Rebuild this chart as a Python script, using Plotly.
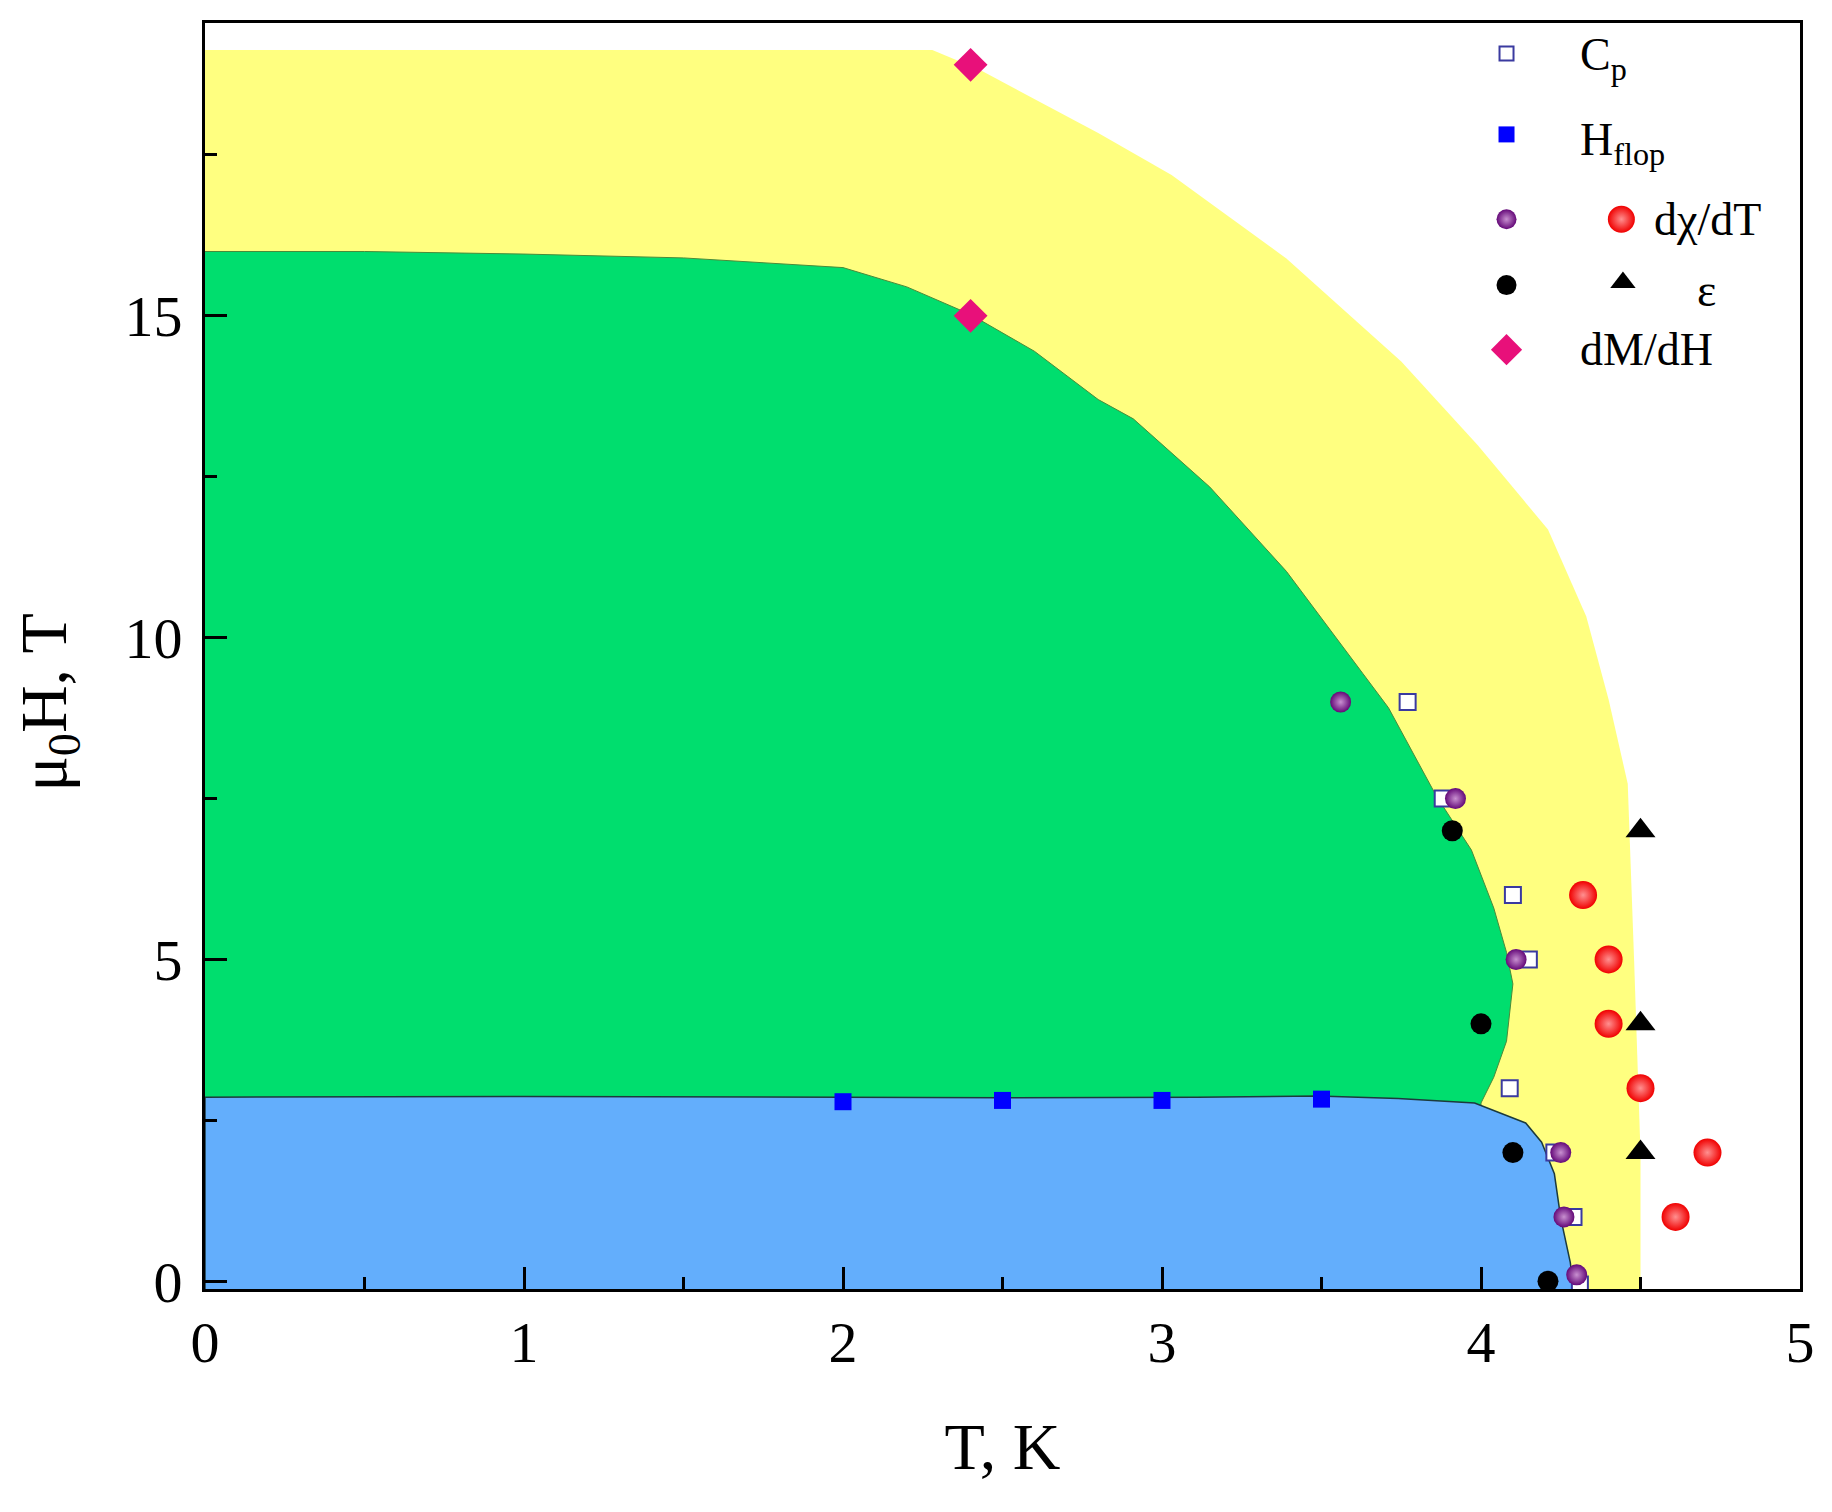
import plotly.graph_objects as go

# phase boundaries (T in K, mu0H in T)
yellow_T = [0, 2.28, 2.43, 2.80, 3.03, 3.39, 3.75, 3.99, 4.21, 4.33, 4.40, 4.46, 4.48, 4.50, 4.50, 0]
yellow_H = [19.13, 19.13, 18.82, 17.84, 17.19, 15.89, 14.29, 12.99, 11.68, 10.33, 9.04, 7.73, 4.98,
            2.0, -0.13, -0.13]

green_T = [0, 0.5, 1.0, 1.5, 2.0, 2.2, 2.4, 2.6, 2.8, 2.91, 3.15, 3.39, 3.63, 3.71, 3.86, 3.97,
           4.04, 4.08, 4.10, 4.08, 4.04, 4.00, 4.00, 0]
green_H = [16.0, 16.0, 15.96, 15.9, 15.75, 15.45, 15.02, 14.45, 13.7, 13.4, 12.34, 11.03, 9.44, 8.91,
           7.54, 6.7, 5.8, 5.11, 4.62, 3.73, 3.17, 2.77, -0.13, -0.13]

blue_T = [0, 1.0, 2.0, 2.5, 3.11, 3.49, 3.74, 3.98, 4.14, 4.19, 4.23, 4.25, 4.28, 4.29, 0, 0]
blue_H = [2.86, 2.87, 2.86, 2.85, 2.86, 2.88, 2.84, 2.77, 2.46, 2.16, 1.67, 0.98, 0.29, -0.13, -0.13, 2.86]

# measured points
cp_T = [3.77, 3.88, 4.10, 4.15, 4.09, 4.23, 4.29, 4.31]
cp_H = [9.0, 7.5, 6.0, 5.0, 3.0, 2.0, 1.0, -0.05]

flop_T = [2.0, 2.5, 3.0, 3.5]
flop_H = [2.79, 2.81, 2.81, 2.83]

chi_low_T = [3.56, 3.92, 4.11, 4.25, 4.26, 4.30]
chi_low_H = [9.0, 7.5, 5.0, 2.0, 1.0, 0.1]

chi_high_T = [4.32, 4.40, 4.40, 4.50, 4.71, 4.61]
chi_high_H = [6.0, 5.0, 4.0, 3.0, 2.0, 1.0]

eps_low_T = [3.91, 4.00, 4.10, 4.21]
eps_low_H = [7.0, 4.0, 2.0, 0.0]

eps_high_T = [4.50, 4.50, 4.50]
eps_high_H = [7.0, 4.0, 2.0]

dmdh_T = [2.40, 2.40]
dmdh_H = [18.9, 15.0]

FONT = "Liberation Serif"

fig = go.Figure()

fig.add_trace(go.Scatter(x=yellow_T, y=yellow_H, fill="toself", fillcolor="#FFFF80",
                         mode="lines", line=dict(width=0), hoverinfo="skip"))
fig.add_trace(go.Scatter(x=green_T, y=green_H, fill="toself", fillcolor="#00DE6E",
                         mode="lines", line=dict(width=1, color="#4a8a3a"), hoverinfo="skip"))
fig.add_trace(go.Scatter(x=blue_T, y=blue_H, fill="toself", fillcolor="#63AEFC",
                         mode="lines", line=dict(width=1.5, color="#1c3a3c"), hoverinfo="skip"))

fig.add_trace(go.Scatter(x=cp_T, y=cp_H, mode="markers",
                         marker=dict(symbol="square", size=16, color="white",
                                     line=dict(color="#3a3aa0", width=2))))
fig.add_trace(go.Scatter(x=flop_T, y=flop_H, mode="markers",
                         marker=dict(symbol="square", size=17, color="#0000FF", line=dict(width=0))))
fig.add_trace(go.Scatter(x=chi_low_T, y=chi_low_H, mode="markers",
                         marker=dict(symbol="circle", size=21, color="#640878",
                                     gradient=dict(type="radial", color="#c890d0"), line=dict(width=0))))
fig.add_trace(go.Scatter(x=chi_high_T, y=chi_high_H, mode="markers",
                         marker=dict(symbol="circle", size=28, color="#F00000",
                                     gradient=dict(type="radial", color="#ff9090"), line=dict(width=0))))
fig.add_trace(go.Scatter(x=eps_low_T, y=eps_low_H, mode="markers",
                         marker=dict(symbol="circle", size=21, color="black", line=dict(width=0))))
fig.add_trace(go.Scatter(x=eps_high_T, y=eps_high_H, mode="markers",
                         marker=dict(symbol="triangle-up", size=26, color="black", line=dict(width=0))))
fig.add_trace(go.Scatter(x=dmdh_T, y=dmdh_H, mode="markers",
                         marker=dict(symbol="diamond", size=26, color="#E8107A", line=dict(width=0))))

# hand-made legend on an overlay axis (0..1 space over the plot area)
legend_rows = [
    dict(sym="square", size=14, color="white", line="#3a3aa0", x=0.816, y=0.976),
    dict(sym="square", size=16, color="#0000FF", line=None, x=0.816, y=0.912),
    dict(sym="circle", size=20, color="#640878", grad="#c890d0", line=None, x=0.816, y=0.845),
    dict(sym="circle", size=27, color="#F00000", grad="#ff9090", line=None, x=0.888, y=0.845),
    dict(sym="circle", size=20, color="black", line=None, x=0.816, y=0.793),
    dict(sym="triangle-up", size=22, color="black", line=None, x=0.889, y=0.795),
    dict(sym="diamond", size=24, color="#E8107A", line=None, x=0.816, y=0.742),
]
for r in legend_rows:
    m = dict(symbol=r["sym"], size=r["size"], color=r["color"],
             line=dict(color=r["line"] or r["color"], width=2 if r["line"] else 0))
    if r.get("grad"):
        m["gradient"] = dict(type="radial", color=r["grad"])
    fig.add_trace(go.Scatter(x=[r["x"]], y=[r["y"]], mode="markers", marker=m,
                             xaxis="x2", yaxis="y2", hoverinfo="skip"))

legend_text = [
    ("C<sub>p</sub>", 0.861, 0.972),
    ("H<sub>flop</sub>", 0.861, 0.905),
    ("dχ/dT", 0.907, 0.845),
    ("ε", 0.934, 0.789),
    ("dM/dH", 0.861, 0.742),
]
for txt, x, y in legend_text:
    fig.add_annotation(text=txt, x=x, y=y, xref="x2", yref="y2", xanchor="left", yanchor="middle",
                       showarrow=False, font=dict(family=FONT, size=46, color="black"))

# y title sits a little below the middle of the axis in the original
fig.add_annotation(text="μ<sub>0</sub>H, T", textangle=-90, xref="paper", yref="paper",
                   x=-0.098, y=0.463, xanchor="center", yanchor="middle", showarrow=False,
                   font=dict(family=FONT, size=66, color="black"))

axis_common = dict(
    showline=True, linecolor="black", linewidth=3, mirror=True,
    ticks="inside", tickcolor="black", tickwidth=2.5, ticklen=22,
    showgrid=False, zeroline=False,
    tickfont=dict(family=FONT, size=58, color="black"),
    minor=dict(ticks="inside", ticklen=12, tickwidth=2.5, tickcolor="black", showgrid=False),
)

fig.update_layout(
    width=1832, height=1512,
    margin=dict(l=197, r=40, t=12, b=231),
    paper_bgcolor="white", plot_bgcolor="white",
    showlegend=False,
    xaxis=dict(range=[0, 5], tickvals=[0, 1, 2, 3, 4, 5], **axis_common,
               title=dict(text="T, K", font=dict(family=FONT, size=66, color="black"), standoff=50)),
    yaxis=dict(range=[-0.12, 19.55], tickvals=[0, 5, 10, 15], ticklabelstandoff=8, **axis_common),
    xaxis2=dict(range=[0, 1], overlaying="x", visible=False, fixedrange=True),
    yaxis2=dict(range=[0, 1], overlaying="y", visible=False, fixedrange=True),
)
fig.update_layout(xaxis_minor_dtick=0.5, yaxis_minor_dtick=2.5)

fig.write_html("out.html")
